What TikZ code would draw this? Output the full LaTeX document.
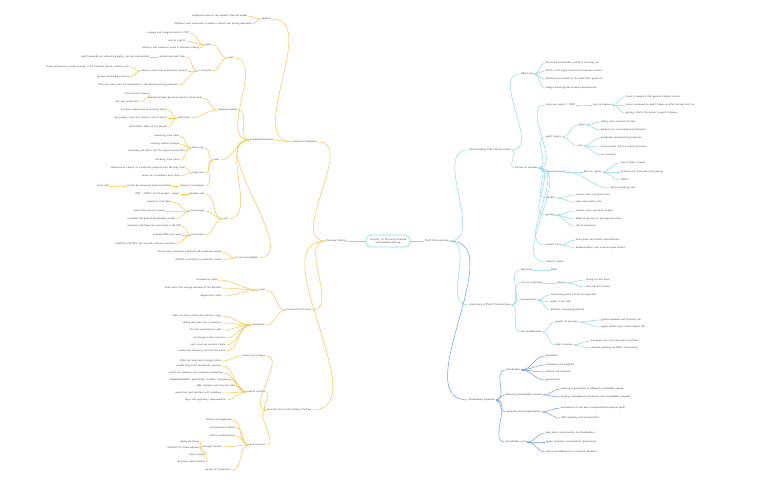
\documentclass[tikz,border=0pt]{standalone}
\usetikzlibrary{positioning}
\definecolor{yl}{HTML}{F2C84B}
\definecolor{cy}{HTML}{8EDBDD}
\definecolor{bl}{HTML}{6F9BEB}
\definecolor{tx}{HTML}{555555}
\tikzset{lt/.style={inner sep=0.6pt,text=tx,font=\sffamily\fontsize{2.7}{3}\selectfont},
 ye/.style={draw=yl,line width=0.5pt},ce/.style={draw=cy,line width=0.5pt},be/.style={draw=bl,line width=0.5pt}}
\newcommand\Lx[4]{\node[lt,anchor=east] (#1) at (#2,#3) {#4};}
\newcommand\Rx[4]{\node[lt,anchor=west] (#1) at (#2,#3) {#4};}
\begin{document}
\begin{tikzpicture}[x=1pt,y=-1pt]
\useasboundingbox[fill=white] (0,0) rectangle (768,496);
\node[draw=cy,line width=0.7pt,rounded corners=5pt,lt,align=center,minimum width=44pt,minimum height=12pt] (c) at (388,241) {Chapter 3.4 Financial Analysis\\and Decision Making};
\Lx{L}{347}{241}{Decision Making}
\Rx{R}{424}{241}{Profit Maximization}
% ---- left
\Lx{a}{318}{142}{Important Decisions}
\Lx{p}{272}{19}{product}
\Lx{p1}{248}{16}{Implementation of the product lifecycle model}
\Lx{p2}{252}{24}{Different cost structures in product launch and pricing decisions}
\Lx{e}{274}{140}{Expected Decisions}
\Lx{A}{234}{58}{cost}
\Lx{A1}{212}{45}{costs}
\Lx{A11}{190}{33}{average and marginal costs in CVP}
\Lx{A12}{186}{41}{cost of capital}
\Lx{A13}{200}{48}{relevant and irrelevant costs in decision making}
\Lx{A2}{212}{71}{in Analysis}
\Lx{A21}{186}{57}{include non-cash item}
\Lx{A211}{150}{57}{profit depends on accounting policy, can be manipulated}
\Lx{A22}{188}{71}{relevant costs and incremental revenue}
\Lx{A221}{130}{67}{Does not require a major change in the business, hence a better view}
\Lx{A222}{130}{77}{ignores diminishing returns}
\Lx{A23}{178}{85}{Relevant costs must be considered in the decision-making process}
\Lx{B}{238}{110}{Separate period}
\Lx{B1}{203}{98}{choose between period or several alternatives}
\Lx{B11}{150}{94}{time value of money}
\Lx{B12}{140}{102}{risk and uncertainty}
\Lx{B2}{190}{118}{indicators}
\Lx{B21}{168}{110}{payback period and accounting return}
\Lx{B22}{168}{118}{net present value and internal rate of return}
\Lx{B23}{168}{127}{profitability index of the project}
\Lx{C}{220}{160}{cash}
\Lx{C1}{205}{148}{short-term}
\Lx{C11}{180}{136}{operating cash flows}
\Lx{C12}{180}{144}{working capital changes}
\Lx{C13}{186}{151}{investing cash flows and the impact on liquidity}
\Lx{C14}{180}{160}{financing cash flows}
\Lx{C2}{205}{173}{long-term}
\Lx{C21}{186}{168}{allocation of capital to investment projects over the long term}
\Lx{C22}{180}{176}{return on investment over time}
\Lx{C3}{205}{186}{closed-in investment}
\Lx{C31}{172}{186}{cannot be recovered once committed}
\Lx{C32}{110}{186}{sunk costs}
\Lx{D}{228}{219}{roll}
\Lx{D1}{205}{194}{decision rule}
\Lx{D11}{180}{194}{IRR > WACC of the project: accept}
\Lx{D2}{205}{211}{advantages}
\Lx{D21}{172}{202}{based on cash flows}
\Lx{D22}{166}{211}{takes time value of money}
\Lx{D23}{176}{219}{considers the goal of shareholder wealth}
\Lx{D3}{205}{235}{limitations}
\Lx{D31}{182}{226}{assumes cash flows are reinvested at the IRR}
\Lx{D32}{182}{235}{multiple IRRs may arise}
\Lx{D33}{176}{244}{conflicts with NPV for mutually exclusive projects}
\Lx{f}{258}{258}{Future intangibles}
\Lx{f1}{222}{252}{brand value, customer goodwill and employee morale}
\Lx{f2}{222}{260}{difficult to quantify in monetary terms}
\Lx{g}{312}{310}{Incremental Analysis}
\Lx{g1}{266}{290}{cost}
\Lx{g11}{218}{280}{incremental costs}
\Lx{g12}{222}{288}{fixed costs that change because of the decision}
\Lx{g13}{222}{296}{opportunity costs}
\Lx{g2}{266}{325}{assumption}
\Lx{g21}{222}{316}{costs are linear within the relevant range}
\Lx{g22}{222}{323}{selling price per unit is constant}
\Lx{g23}{222}{330}{all units produced are sold}
\Lx{g24}{226}{338}{no change in the sales mix}
\Lx{g25}{226}{345}{cost structure remains stable}
\Lx{g26}{226}{351}{production efficiency remains the same}
\Lx{h}{312}{410}{Quantitative and Qualitative Factors}
\Lx{h1}{266}{356}{impact on strategy}
\Lx{h11}{222}{361}{effect on long-term strategic plans}
\Lx{h2}{266}{392}{overall analysis}
\Lx{h21}{222}{366}{market share and competitor reaction}
\Lx{h22}{224}{373}{quality of products and customer satisfaction}
\Lx{h23}{232}{380}{\textbf{financial factors}: profitability, liquidity and gearing}
\Lx{h24}{236}{386}{\textbf{risk}: business and financial risks}
\Lx{h25}{222}{393}{reputation and relations with suppliers}
\Lx{h26}{226}{400}{legal and regulatory requirements}
\Lx{h3}{266}{445}{non-financial}
\Lx{h31}{232}{420}{impact on employees}
\Lx{h32}{236}{428}{environmental effects}
\Lx{h33}{236}{436}{ethical considerations}
\Lx{h34}{222}{447}{strategic factors}
\Lx{h341}{200}{442}{corporate image}
\Lx{h342}{200}{448}{flexibility of future options}
\Lx{h343}{206}{455}{social impact}
\Lx{h344}{206}{462}{long-term sustainability}
\Lx{h35}{232}{470}{quality of information}
% ---- right
\Rx{r1}{468}{150}{Understanding Profit Maximization}
\Rx{o}{520}{74}{Objectives}
\Rx{o1}{545}{63}{Maximize shareholder wealth in the long run}
\Rx{o2}{545}{71}{Profit is the single measure of business success}
\Rx{o3}{545}{79}{Decisions evaluated by the profit they generate}
\Rx{o4}{545}{88}{Ledger-based figures measure performance}
\Rx{k}{514}{168}{Factors to consider}
\Rx{k1}{545}{105}{return on capital / ROE}
\Rx{k11}{592}{105}{how to improve}
\Rx{k111}{625}{97}{invest in projects that generate higher return}
\Rx{k112}{625}{105}{return measured by profit before or after interest and tax}
\Rx{k113}{625}{113}{gearing affects the return to equity holders}
\Rx{k2}{545}{137}{profit margin}
\Rx{k21}{578}{125}{gross}
\Rx{k211}{600}{122}{selling price and cost of sales}
\Rx{k212}{600}{130}{product mix and production efficiency}
\Rx{k22}{578}{146}{net}
\Rx{k221}{600}{138}{overheads and operating expenses}
\Rx{k222}{600}{147}{finance costs and the capital structure}
\Rx{k223}{600}{155}{tax planning}
\Rx{k3}{545}{172}{capital structure}
\Rx{k31}{583}{172}{debt vs. equity}
\Rx{k311}{620}{163}{cost of debt is lower}
\Rx{k312}{620}{172}{financial risk increases with gearing}
\Rx{k313}{620}{180}{WACC}
\Rx{k32}{610}{188}{optimal gearing ratio}
\Rx{k4}{545}{198}{liquidity}
\Rx{k41}{575}{195}{current ratio and quick ratio}
\Rx{k42}{575}{202}{cash conversion cycle}
\Rx{k5}{545}{215}{gearing}
\Rx{k51}{575}{211}{interest cover and level of debt}
\Rx{k52}{575}{219}{effect of gearing on earnings per share}
\Rx{k53}{575}{226}{risk of insolvency}
\Rx{k6}{545}{245}{market value}
\Rx{k61}{575}{240}{share price and market capitalisation}
\Rx{k62}{575}{248}{dividend policy and investor expectations}
\Rx{k7}{545}{262}{industry norms}
\Rx{r2}{468}{305}{Limitations of Profit Maximization}
\Rx{m1}{520}{270}{objectives}
\Rx{m11}{550}{270}{profit}
\Rx{m2}{520}{283}{time of realization}
\Rx{m21}{556}{283}{ignores}
\Rx{m211}{585}{280}{timing of cash flows}
\Rx{m212}{585}{287}{time value of money}
\Rx{m3}{520}{300}{measurement}
\Rx{m31}{550}{295}{accounting profit can be manipulated}
\Rx{m32}{550}{302}{profit is not cash}
\Rx{m33}{550}{310}{different accounting policies}
\Rx{m4}{520}{332}{risk consideration}
\Rx{m41}{555}{322}{quality of earnings}
\Rx{m411}{600}{320}{ignores business and financial risk}
\Rx{m412}{600}{327}{higher profits may involve higher risk}
\Rx{m42}{555}{345}{short-termism}
\Rx{m421}{590}{341}{managers may cut long-term investment}
\Rx{m422}{590}{348}{reduced spending on R\&D and training}
\Rx{r3}{468}{400}{Stakeholder Approach}
\Rx{s1}{505}{370}{stakeholders}
\Rx{s11}{545}{356}{employees}
\Rx{s12}{545}{365}{customers and suppliers}
\Rx{s13}{545}{372}{lenders and creditors}
\Rx{s14}{545}{380}{government}
\Rx{s2}{505}{395}{balancing stakeholder interests}
\Rx{s21}{560}{389}{meeting expectations of different stakeholder groups}
\Rx{s22}{560}{397}{aligning management incentives with shareholder interests}
\Rx{s3}{505}{412}{corporate social responsibility}
\Rx{s31}{560}{408}{environmental and social responsibilities beyond profit}
\Rx{s32}{560}{418}{CSR reporting and sustainability}
\Rx{s4}{505}{442}{shareholder value}
\Rx{s41}{545}{433}{long-term value creation for shareholders}
\Rx{s42}{545}{442}{agency problem and corporate governance}
\Rx{s43}{545}{452}{ethical considerations in financial decisions}
% ---- edges
\draw[ce] (c.west) -- (L.east);
\draw[ce] (c.east) -- (R.west);
\foreach \p/\q in {L/a,L/g,L/h,a/p,a/e,p/p1,p/p2,e/A,e/B,e/C,e/D,e/f,A/A1,A/A2,A1/A11,A1/A12,A1/A13,A2/A21,A2/A22,A2/A23,A21/A211,A22/A221,A22/A222,B/B1,B/B2,B1/B11,B1/B12,B2/B21,B2/B22,B2/B23,C/C1,C/C2,C/C3,C1/C11,C1/C12,C1/C13,C1/C14,C2/C21,C2/C22,C3/C31,C31/C32,D/D1,D/D2,D/D3,D1/D11,D2/D21,D2/D22,D2/D23,D3/D31,D3/D32,D3/D33,f/f1,f/f2,g/g1,g/g2,g1/g11,g1/g12,g1/g13,g2/g21,g2/g22,g2/g23,g2/g24,g2/g25,g2/g26,h/h1,h/h2,h/h3,h1/h11,h2/h21,h2/h22,h2/h23,h2/h24,h2/h25,h2/h26,h3/h31,h3/h32,h3/h33,h3/h34,h3/h35,h34/h341,h34/h342,h34/h343,h34/h344}
  \draw[ye] (\p.west) to[out=180,in=0] (\q.east);
\foreach \p/\q in {R/r1,R/r2,r1/o,r1/k,o/o1,o/o2,o/o3,o/o4,k/k1,k/k2,k/k3,k/k4,k/k5,k/k6,k/k7,k1/k11,k11/k111,k11/k112,k11/k113,k2/k21,k2/k22,k21/k211,k21/k212,k22/k221,k22/k222,k22/k223,k3/k31,k3/k32,k31/k311,k31/k312,k31/k313,k4/k41,k4/k42,k5/k51,k5/k52,k5/k53,k6/k61,k6/k62,r2/m1,r2/m2,r2/m3,r2/m4,m1/m11,m2/m21,m21/m211,m21/m212,m3/m31,m3/m32,m3/m33,m4/m41,m4/m42,m41/m411,m41/m412,m42/m421,m42/m422}
  \draw[ce] (\p.east) to[out=0,in=180] (\q.west);
\foreach \p/\q in {R/r3,r3/s1,r3/s2,r3/s3,r3/s4,s1/s11,s1/s12,s1/s13,s1/s14,s2/s21,s2/s22,s3/s31,s3/s32,s4/s41,s4/s42,s4/s43}
  \draw[be] (\p.east) to[out=0,in=180] (\q.west);
\end{tikzpicture}
\end{document}
